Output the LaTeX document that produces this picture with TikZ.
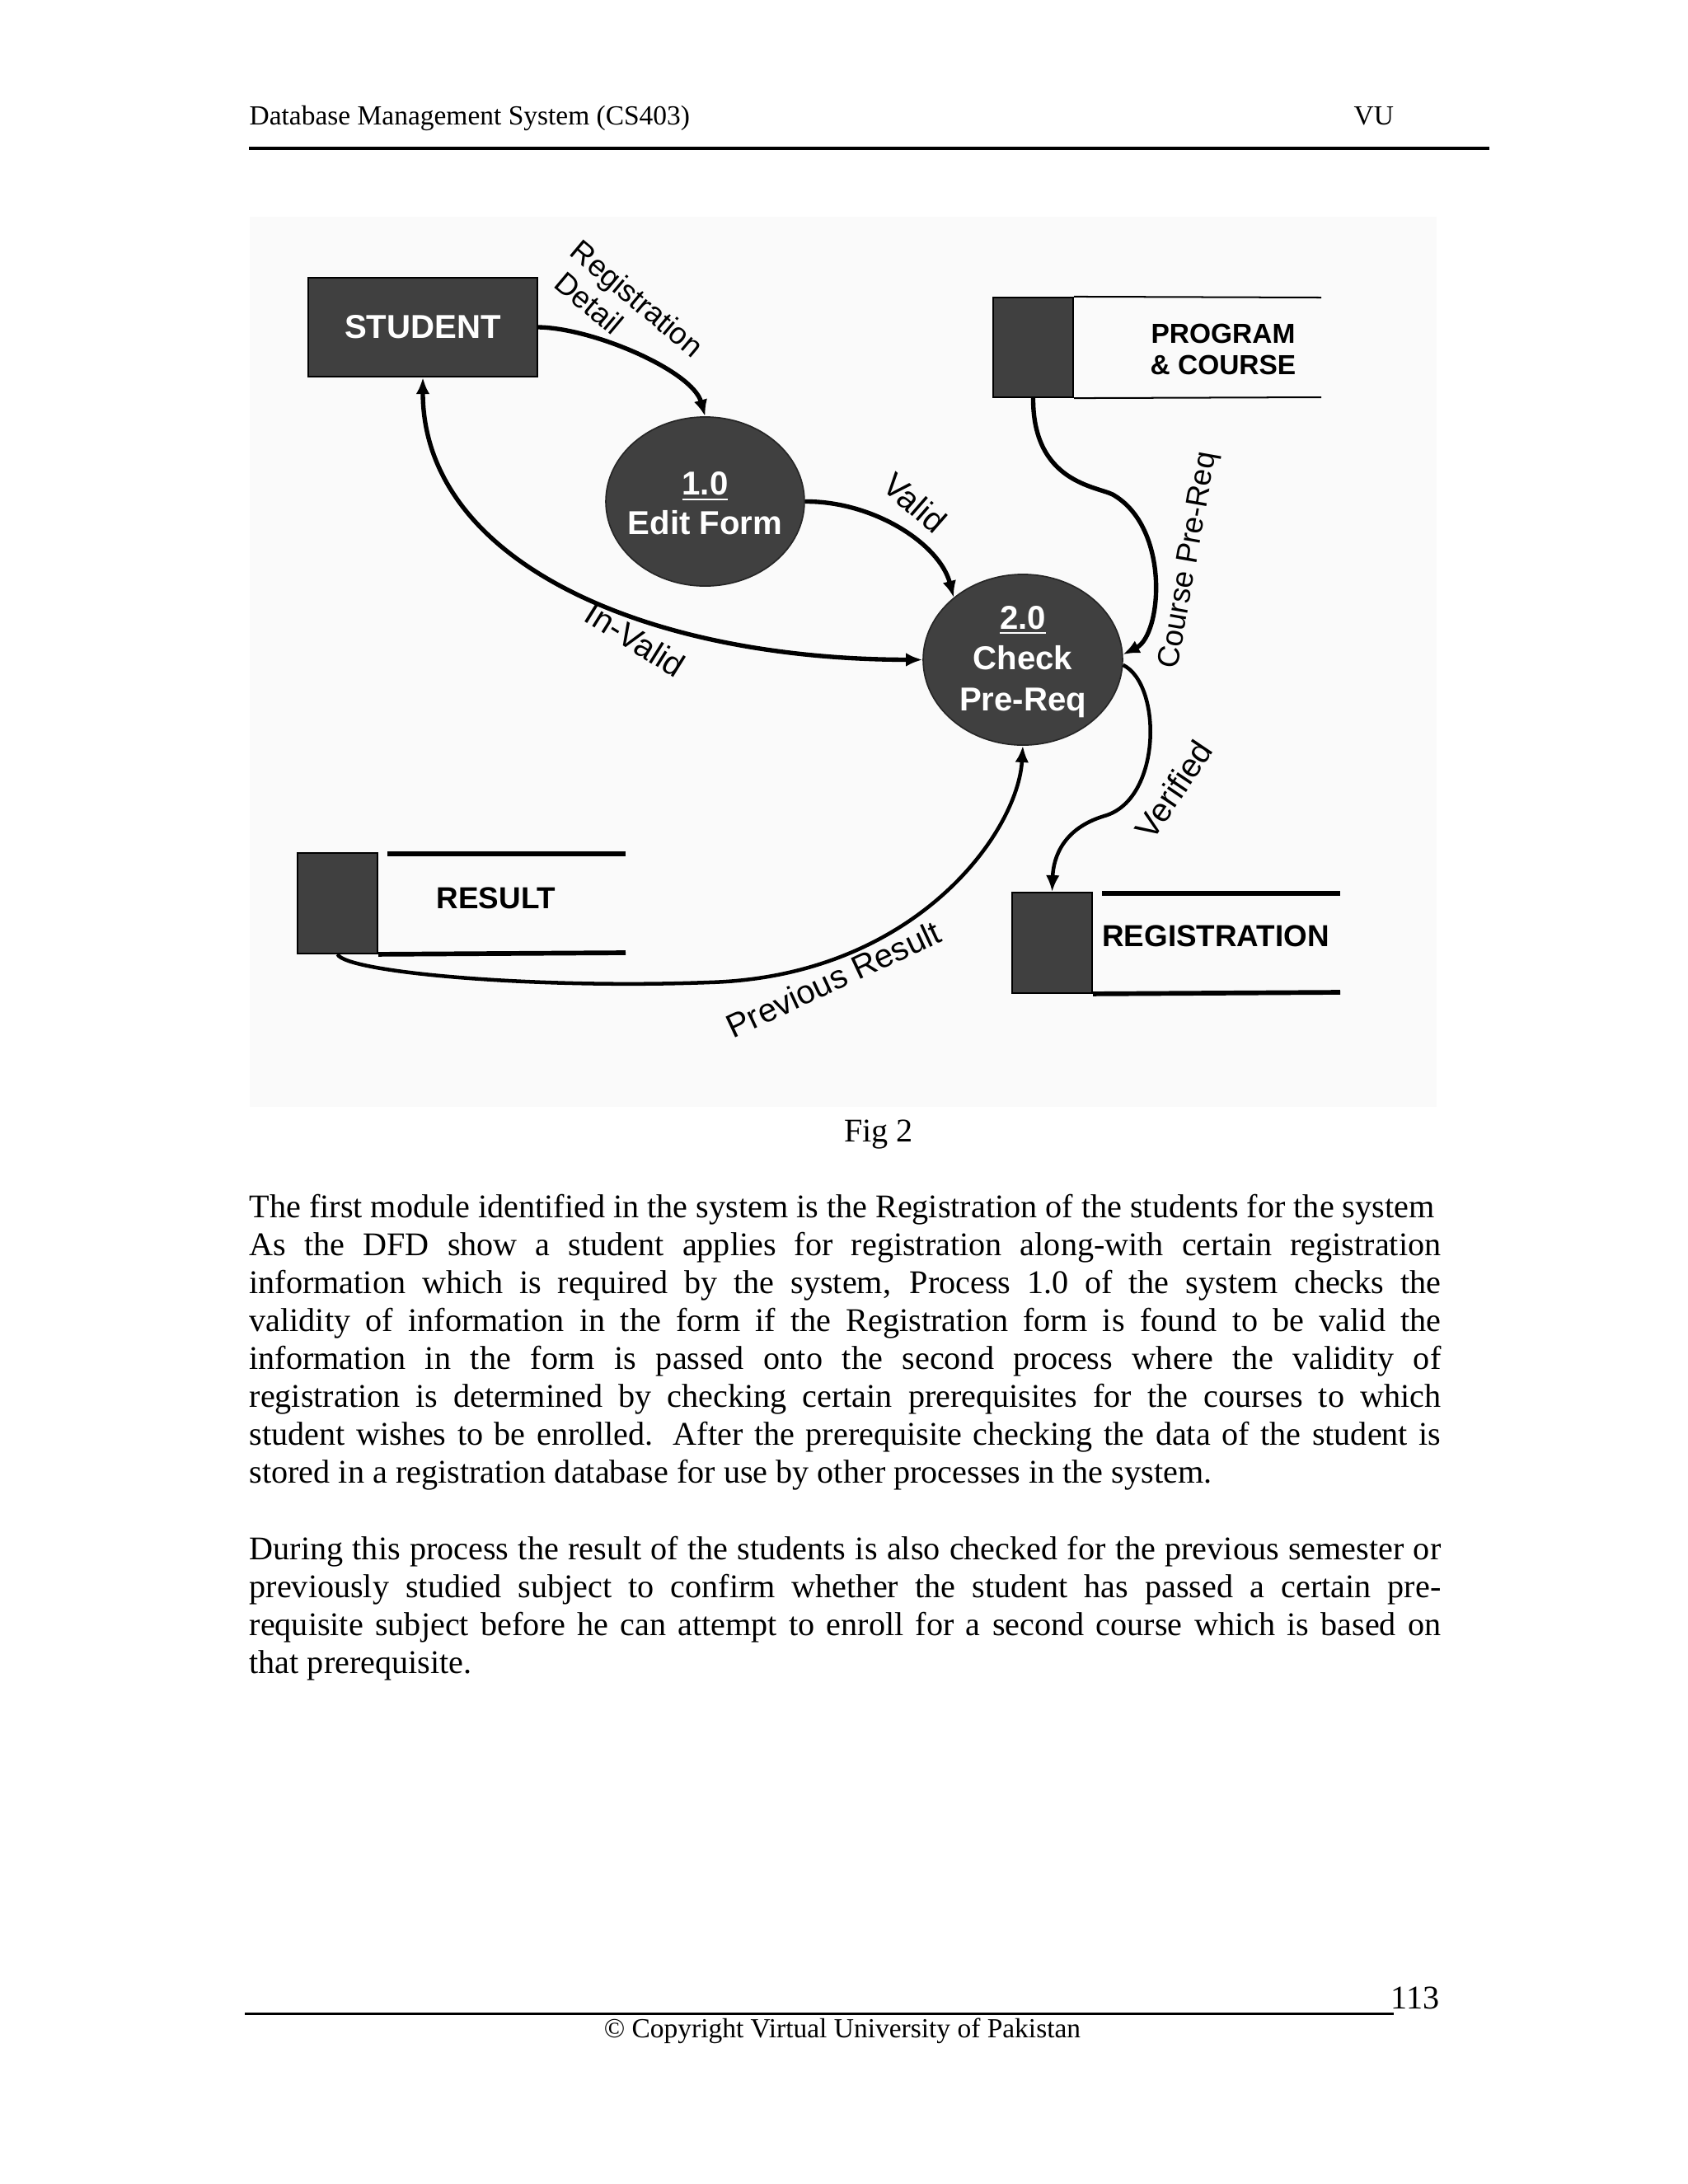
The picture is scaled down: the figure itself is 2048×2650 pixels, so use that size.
\documentclass[tikz,border=0pt]{standalone}
\usepackage{fontspec}
\setmainfont{Liberation Serif}
\newfontfamily\arialfont{Liberation Sans}
\usetikzlibrary{shapes.geometric,arrows.meta}
\definecolor{dfdgray}{HTML}{404040}
\definecolor{figbg}{HTML}{FAFAFA}
\begin{document}
\begin{tikzpicture}[x=0.29883pt, y=-0.29883pt,
  >={Latex[length=6pt,width=5pt]},
  proc/.style={ellipse, fill=dfdgray, draw=black!85, line width=0.5pt, inner sep=0pt},
  ent/.style={rectangle, fill=dfdgray, draw=black, line width=0.6pt, inner sep=0pt,
    text=white, font=\arialfont\bfseries\fontsize{12}{14}\selectfont},
  storesq/.style={rectangle, fill=dfdgray, draw=black, line width=0.6pt, inner sep=0pt,
    minimum width=29pt, minimum height=36.4pt},
  storetxt/.style={inner sep=0pt, align=center, font=\arialfont\bfseries\fontsize{11}{11.4}\selectfont},
  proctxt/.style={inner sep=0pt, align=center, text=white},
  flow/.style={line width=1.6pt, ->},
  flowlbl/.style={inner sep=0pt, font=\arialfont\fontsize{12}{11.5}\selectfont},
  bodyline/.style={anchor=base west, inner sep=0pt, font=\fontsize{12}{13.74}\selectfont},
  smalltxt/.style={anchor=base west, inner sep=0pt, font=\fontsize{10}{12}\selectfont}]

% page
\fill[white] (0,0) rectangle (2048,2650);
\useasboundingbox (0,0) rectangle (2048,2650);

% header
\node[smalltxt] (hdr) at (302,151) {Database Management System (CS403)};
\node[smalltxt] (vu) at (1642,151) {VU};
\draw[line width=1.1pt] (302,180) -- (1807,180);

% figure background
\fill[figbg] (303,263) rectangle (1743,1343);

% external entity
\node[ent, minimum width=83.1pt, minimum height=35.9pt] (student) at (513,397) {STUDENT};

% processes
\node[proc, minimum width=72pt, minimum height=61.3pt] (p1) at (855.5,608.5) {};
\node[proctxt, font=\arialfont\bfseries\fontsize{12}{14.3}\selectfont] (p1t) at (855.5,611) {\underline{1.0}\\Edit Form};
\node[proc, minimum width=72.3pt, minimum height=61.9pt] (p2) at (1241,800.5) {};
\node[proctxt, font=\arialfont\bfseries\fontsize{12}{14.9}\selectfont] (p2t) at (1241,803) {\underline{2.0}\\Check\\Pre-Req};

% data stores
\node[storesq, minimum height=36.2pt] (progsq) at (1253.5,421.5) {};
\draw[line width=0.6pt] (progsq.north east) -- (1603,361);
\draw[line width=0.6pt] (progsq.south east) -- (1603,482);
\node[storetxt, font=\arialfont\bfseries\fontsize{10}{11.4}\selectfont] (progtxt) at (1484,424) {PROGRAM\\\& COURSE};

\node[storesq] (ressq) at (409.5,1096) {};
\draw[line width=1.7pt] (470,1036) -- (759,1036);
\draw[line width=1.7pt] (ressq.south east) -- (759,1156);
\node[storetxt] (restxt) at (602,1090) {RESULT};

\node[storesq] (regsq) at (1276.5,1144) {};
\draw[line width=1.7pt] (1337,1084) -- (1626,1084);
\draw[line width=1.7pt] (regsq.south east) -- (1626,1204);
\node[storetxt] (regtxt) at (1475,1136) {REGISTRATION};

% flows
\draw[flow] (student.east) .. controls (720,398) and (840,450) .. (p1.north);
\node[flowlbl, align=left, rotate=-40, font=\arialfont\fontsize{11}{12.5}\selectfont] (lblreg) at (760,378) {Registration\\\hspace{3pt}Detail};

\draw[flow] (p1.east) .. controls (1060,608) and (1140,660) .. (p2.138);
\node[flowlbl, rotate=-41] (lblvalid) at (1110,610) {Valid};

\draw[flow, <->] (student.south) .. controls (513,680) and (780,800) .. (p2.west);
\node[flowlbl, rotate=-32] (lblinvalid) at (771,776) {In-Valid};

\draw[flow] (progsq.south) .. controls (1253,585) and (1330,590) .. (1350,600) .. controls (1420,640) and (1410,770) .. (p2.3);
\node[flowlbl, rotate=80, font=\arialfont\fontsize{11}{11.5}\selectfont] (lblcourse) at (1443,680) {Course Pre-Req};

\draw[flow, line width=1.35pt] (p2.-3) .. controls (1410,830) and (1410,970) .. (1340,990) .. controls (1290,1005) and (1278,1040) .. (regsq.north);
\node[flowlbl, rotate=56] (lblverified) at (1424,958) {Verified};

\draw[flow, line width=1.35pt] (ressq.south) .. controls (420,1180) and (650,1200) .. (860,1192) .. controls (1110,1185) and (1235,1010) .. (p2.south);
\node[flowlbl, rotate=25] (lblprev) at (1011,1188) {Previous Result};

% caption
\node[anchor=base, inner sep=0pt, font=\fontsize{12}{13.74}\selectfont] (cap) at (1066,1385) {Fig 2};

% body text
\node[bodyline] (a1) at (302,1477) {\makebox[432pt][l]{The first module identified in the system is the Registration of the students for the system}};
\node[bodyline] (a2) at (302,1523) {\makebox[432pt][s]{As the DFD show a student applies for registration along-with certain registration}};
\node[bodyline] (a3) at (302,1569) {\makebox[432pt][s]{information which is required by the system, Process 1.0 of the system checks the}};
\node[bodyline] (a4) at (302,1615) {\makebox[432pt][s]{validity of information in the form if the Registration form is found to be valid the}};
\node[bodyline] (a5) at (302,1661) {\makebox[432pt][s]{information in the form is passed onto the second process where the validity of}};
\node[bodyline] (a6) at (302,1707) {\makebox[432pt][s]{registration is determined by checking certain prerequisites for the courses to which}};
\node[bodyline] (a7) at (302,1753) {\makebox[432pt][s]{student wishes to be enrolled. After the prerequisite checking the data of the student is}};
\node[bodyline] (a8) at (302,1799) {\makebox[432pt][l]{stored in a registration database for use by other processes in the system.}};

\node[bodyline] (b1) at (302,1892) {\makebox[432pt][s]{During this process the result of the students is also checked for the previous semester or}};
\node[bodyline] (b2) at (302,1938) {\makebox[432pt][s]{previously studied subject to confirm whether the student has passed a certain pre-}};
\node[bodyline] (b3) at (302,1984) {\makebox[432pt][s]{requisite subject before he can attempt to enroll for a second course which is based on}};
\node[bodyline] (b4) at (302,2030) {\makebox[432pt][l]{that prerequisite.}};

% footer
\draw[line width=0.9pt] (297,2443) -- (1691,2443);
\node[bodyline] (pg) at (1687,2437) {113};
\node[anchor=base, inner sep=0pt, font=\fontsize{10}{12}\selectfont] (copy) at (1022,2472) {\textcopyright{} Copyright Virtual University of Pakistan};
\end{tikzpicture}
\end{document}
